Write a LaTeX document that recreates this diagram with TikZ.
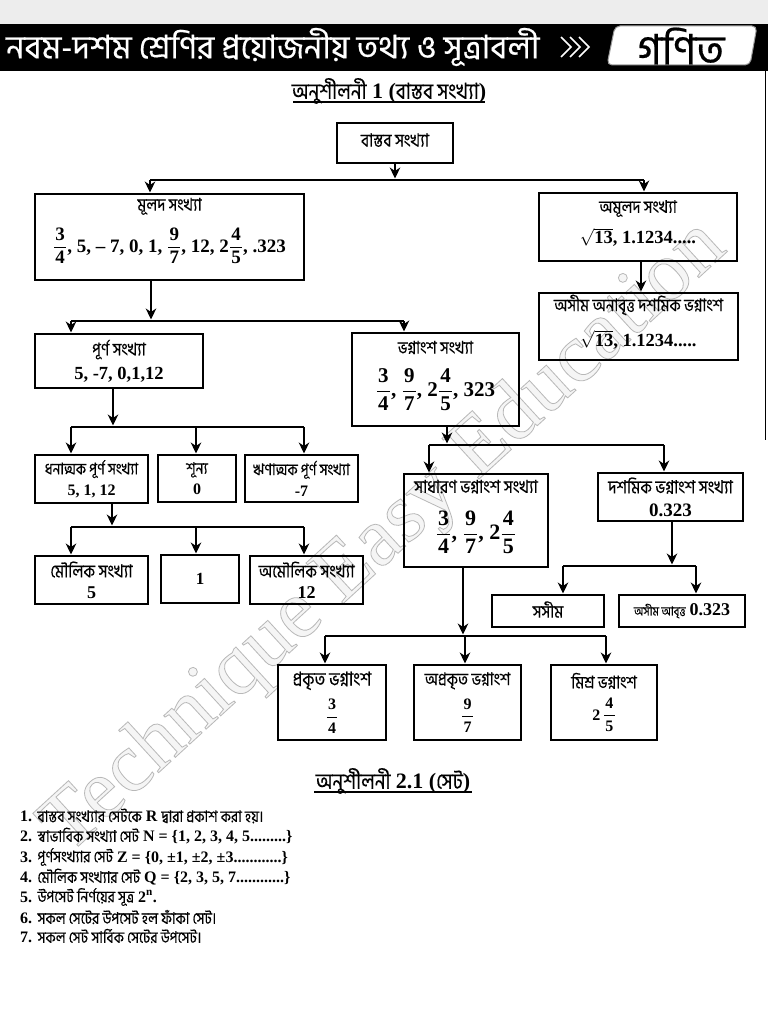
\documentclass[tikz,border=0pt]{standalone}
\usepackage{fontspec}
\usetikzlibrary{arrows.meta}
\setmainfont{Liberation Serif}
\newfontfamily\bnf[Script=Bengali,FakeStretch=0.86,FakeBold=0.35]{Hind Siliguri}
\newfontfamily\bnh[Script=Bengali,FakeBold=0.5]{Hind Siliguri}
\newcommand\bn[1]{{\mdseries\bnf #1}}
\newcommand\bnt[2][17.5]{{\mdseries\fontsize{#1}{18}\selectfont\bnf #2}}
\newcommand\val[2]{{\fontsize{#1}{20}\selectfont #2}}
\newcommand\fr[2]{$\displaystyle{\mbox{\hspace{1.2pt}#1\hspace{1.2pt}}\above.7pt\mbox{\hspace{1.2pt}#2\hspace{1.2pt}}}$}
\newcommand\rt{$\sqrt{\mbox{13}}$}
\newcommand\bx[6]{\node[box,minimum width={(#4-#2)*1pt},minimum height={(#5-#3)*1pt}] (#1) at ({(#2+#4)/2},{(#3+#5)/2}) {#6};}
\tikzset{
 box/.style={draw=black,line width=1.6pt,inner sep=0pt,outer sep=0pt,align=center,font=\fontsize{16}{18}\selectfont\bfseries},
 ln/.style={draw=black,line width=1.6pt},
 arr/.style={draw=black,line width=1.8pt,shorten >=1.5pt,-{Stealth[length=11pt,width=10.5pt,inset=3.5pt]}},
 hvy/.style={arr,line width=2.3pt},
 sect/.style={font=\fontsize{22}{24}\selectfont\bfseries,inner sep=0pt},
 item/.style={anchor=west,inner sep=0pt,font=\fontsize{16}{18}\selectfont\bfseries},
}
\begin{document}
\begin{tikzpicture}[x=1pt,y=-1pt]
\useasboundingbox (0,0) rectangle (768,1024);
\fill[white] (0,0) rectangle (768,1024);
\fill[black!7] (0,0) rectangle (768,24);
\fill[black] (0,24) rectangle (768,71);
\draw[black,line width=1pt] (765,71) -- (765,440);
% watermark
\node[rotate=42.5,inner sep=0pt,text=black!4,font=\fontsize{84}{90}\selectfont] (wm) at (385,538) {\special{pdf:code 2 Tr 0.8 w 0.72 G}Technique Easy Education\special{pdf:code 0 Tr 0 G}};
% header
\node[text=white,anchor=west,inner sep=0pt,font=\fontsize{32.5}{36}\selectfont] (head) at (6,47) {\bnh নবম-দশম শ্রেণির প্রয়োজনীয় তথ্য ও সূত্রাবলী};
\foreach \cx in {561,570,579}{
 \draw[white,line width=1.6pt] (\cx,37) -- (\cx+10,47) -- (\cx,57);
}
\draw[fill=white,draw=black!40,line width=1pt,rounded corners=5pt] (615,26) -- (757,26) -- (750,65) -- (607,65) -- cycle;
\node[inner sep=0pt,font=\fontsize{42}{44}\selectfont] (tag) at (681,46) {\bnh গণিত};
% section titles
\node[sect] (t1) at (389,91) {\bn{অনুশীলনী} 1 (\bn{বাস্তব সংখ্যা})};
\draw[line width=1.2pt] (293,102) -- (485,102);
\node[sect] (t2) at (393,781) {\bn{অনুশীলনী} 2.1 (\bn{সেট})};
\draw[line width=1.2pt] (314,792) -- (472,792);
% boxes
\bx{real}{337}{123}{453}{163}{\raisebox{6pt}{\bnt[18]{বাস্তব সংখ্যা}}}
\bx{rat}{35}{194}{304}{280}{\bnt{মূলদ সংখ্যা}\\[12pt]\val{19}{\fr{3}{4}, 5, -- 7, 0, 1, \fr{9}{7}, 12, 2\fr{4}{5}, .323}\\[6pt]}
\bx{irr}{539}{193}{737}{261}{\bnt{অমূলদ সংখ্যা}\\[10pt]\val{18.5}{\rt, 1.1234.....}\\[-8pt]}
\bx{asim}{539}{293}{738}{360}{\bnt{অসীম অনাবৃত্ত দশমিক ভগ্নাংশ}\\[14pt]\val{18.5}{\rt, 1.1234.....}\\[-6pt]}
\bx{purno}{35}{334}{203}{388}{\bnt{পূর্ণ সংখ্যা}\\[6pt]\val{18.5}{5, -7, 0,1,12}}
\bx{bhog}{352}{333}{519}{426}{\bnt{ভগ্নাংশ সংখ্যা}\\[13pt]\val{21}{\fr{3}{4}, \fr{9}{7}, 2\fr{4}{5}, 323}\\[4pt]}
\bx{dhana}{35}{455}{148}{503}{\bnt[16]{ধনাত্মক পূর্ণ সংখ্যা}\\[3pt]5, 1, 12}
\bx{shunno}{158}{455}{236}{502}{\bnt[16]{শূন্য}\\[3pt]0}
\bx{rin}{245}{455}{358}{502}{\bnt[16]{ঋণাত্মক পূর্ণ সংখ্যা}\\[3pt]-7}
\bx{maulik}{35}{556}{148}{604}{\bnt[18]{মৌলিক সংখ্যা}\\[3pt]\val{18}{5}}
\bx{one}{161}{555}{239}{603}{\raisebox{-3pt}{\val{17}{1}}}
\bx{amaulik}{250}{556}{363}{604}{\bnt[18]{অমৌলিক সংখ্যা}\\[3pt]\val{18}{12}}
\bx{sadh}{404}{474}{548}{567}{\bnt[18]{সাধারণ ভগ্নাংশ সংখ্যা}\\[16pt]\val{22}{\fr{3}{4}, \fr{9}{7}, 2\fr{4}{5}}\\[4pt]}
\bx{dosh}{598}{473}{743}{521}{\bnt[18]{দশমিক ভগ্নাংশ সংখ্যা}\\[5pt]\val{19}{0.323}}
\bx{sasim}{492}{595}{604}{627}{\raisebox{3pt}{\bnt{সসীম}}}
\bx{asab}{619}{595}{745}{627}{{\fontsize{12.5}{14}\selectfont\bn{অসীম আবৃত্ত}} \val{18}{0.323}}
\bx{prok}{278}{665}{386}{740}{\bnt[19]{প্রকৃত ভগ্নাংশ}\\[8pt]\fr{3}{4}}
\bx{aprok}{414}{665}{521}{740}{\bnt{অপ্রকৃত ভগ্নাংশ}\\[8pt]\fr{9}{7}}
\bx{mish}{551}{665}{657}{740}{\bnt{মিশ্র ভগ্নাংশ}\\[8pt]2\,\fr{4}{5}}
% junctions
\coordinate (j1) at (395,180); \coordinate (a1) at (150,180); \coordinate (a2) at (644,180);
\coordinate (j2) at (151,321); \coordinate (b1) at (71,321); \coordinate (b2) at (404,321);
\coordinate (j3) at (113,427); \coordinate (c1) at (71,427); \coordinate (c2) at (196,427); \coordinate (c3) at (304,427);
\coordinate (j4) at (112,527); \coordinate (d1) at (71,527); \coordinate (d2) at (196,527); \coordinate (d3) at (304,527);
\coordinate (j5) at (447,445); \coordinate (e1) at (429,445); \coordinate (e2) at (664,445);
\coordinate (j6) at (463,636); \coordinate (f1) at (325,636); \coordinate (f2) at (465,636); \coordinate (f3) at (606,636);
\coordinate (j7) at (672,566); \coordinate (g1) at (563,566); \coordinate (g2) at (696,566);
\coordinate (j8) at (641,261);
% connectors
\draw[arr] (real.south) -- (j1);
\draw[ln] (a1) -- (a2);
\draw[arr] (a1) -- (a1 |- rat.north);
\draw[arr] (a2) -- (a2 |- irr.north);
\draw[arr] (j8 |- irr.south) -- (j8 |- asim.north);
\draw[hvy] (j2 |- rat.south) -- (j2);
\draw[ln] (b1) -- (b2);
\draw[arr] (b1) -- (b1 |- purno.north);
\draw[arr] (b2) -- (b2 |- bhog.north);
\draw[hvy] (j3 |- purno.south) -- (j3);
\draw[ln] (c1) -- (c3);
\draw[arr] (c1) -- (c1 |- dhana.north);
\draw[arr] (c2) -- (c2 |- shunno.north);
\draw[arr] (c3) -- (c3 |- rin.north);
\draw[hvy] (j4 |- dhana.south) -- (j4);
\draw[ln] (d1) -- (d3);
\draw[arr] (d1) -- (d1 |- maulik.north);
\draw[arr] (d2) -- (d2 |- one.north);
\draw[arr] (d3) -- (d3 |- amaulik.north);
\draw[hvy] (j5 |- bhog.south) -- (j5);
\draw[ln] (e1) -- (e2);
\draw[arr] (e1) -- (e1 |- sadh.north);
\draw[arr] (e2) -- (e2 |- dosh.north);
\draw[arr] (j6 |- sadh.south) -- (j6);
\draw[ln] (f1) -- (f3);
\draw[arr] (f1) -- (f1 |- prok.north);
\draw[arr] (f2) -- (f2 |- aprok.north);
\draw[arr] (f3) -- (f3 |- mish.north);
\draw[arr] (j7 |- dosh.south) -- (j7);
\draw[ln] (g1) -- (g2);
\draw[arr] (g1) -- (g1 |- sasim.north);
\draw[arr] (g2) -- (g2 |- asab.north);
% list
\node[item] (l1) at (20,816) {1. \bn{বাস্তব সংখ্যার সেটকে} R \bn{দ্বারা প্রকাশ করা হয়।}};
\node[item] (l2) at (20,836) {2. \bn{স্বাভাবিক সংখ্যা সেট} N = \{1, 2, 3, 4, 5.........\}};
\node[item] (l3) at (20,857) {3. \bn{পূর্ণসংখ্যার সেট} Z = \{0, ±1, ±2, ±3............\}};
\node[item] (l4) at (20,877) {4. \bn{মৌলিক সংখ্যার সেট} Q = \{2, 3, 5, 7............\}};
\node[item] (l5) at (20,897) {5. \bn{উপসেট নির্ণয়ের সূত্র} 2\textsuperscript{n}.};
\node[item] (l6) at (20,917) {6. \bn{সকল সেটের উপসেট হল ফাঁকা সেট।}};
\node[item] (l7) at (20,936) {7. \bn{সকল সেট সার্বিক সেটের উপসেট।}};
\end{tikzpicture}
\end{document}
